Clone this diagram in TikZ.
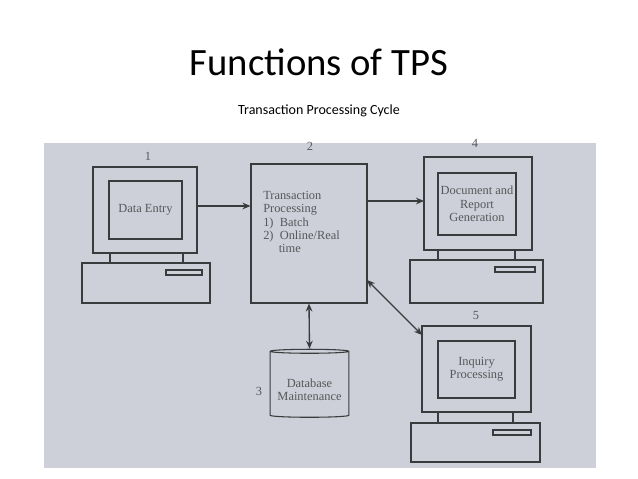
\documentclass[tikz,border=0pt]{standalone}
\usepackage{fontspec}
\setmainfont{Liberation Serif}
\newfontfamily\slidefont{Carlito}
\usetikzlibrary{arrows.meta,shapes.geometric}
\definecolor{paper}{RGB}{205,207,217}
\definecolor{inkc}{RGB}{55,60,60}
\begin{document}
\begin{tikzpicture}[x=0.75pt,y=-0.75pt,
  ln/.style={draw=inkc,line width=0.8pt},
  dtxt/.style={font=\fontsize{9.3}{10}\selectfont,text=inkc!85},
  arr/.style={draw=inkc,line width=1pt,-{Stealth[length=6pt,width=5pt]}},
  darr/.style={draw=inkc,line width=1pt,{Stealth[length=6pt,width=5pt]}-{Stealth[length=6pt,width=5pt]}}]
\useasboundingbox (0,0) rectangle (638,478);
\fill[white] (0,0) rectangle (638,478);
\node[font=\slidefont\fontsize{29}{32}\selectfont] (title) at (319,62) {Functions of TPS};
\node[font=\slidefont\fontsize{10.5}{12}\selectfont] (sub) at (319,111) {Transaction Processing Cycle};
\fill[paper] (44,143) rectangle (596,468);
% computer 1
\draw[ln] (93,167) rectangle (197,253);
\node[ln,dtxt,minimum width=54.75pt,minimum height=43.5pt] (de) at (145.5,210) {Data Entry};
\draw[ln] (110,253) -- (110,263) (183,253) -- (183,263);
\draw[ln] (82,263) rectangle (210,303);
\draw[ln] (166,270) rectangle (202,275);
\node[dtxt] (l1) at (148,156) {1};
% box 2
\node[ln,minimum width=87pt,minimum height=104.25pt] (tp) at (309,233.5) {};
\node[dtxt,align=left,anchor=north west,inner sep=0pt] (tpt) at (263,191) {Transaction\\Processing\\1)\ \ Batch\\2)\ \ Online/Real\\\hspace{1.25em}time};
\node[dtxt] (l2) at (310,146) {2};
% computer 4
\draw[ln] (424,157) rectangle (532,250);
\node[ln,dtxt,align=center,minimum width=58.5pt,minimum height=46.5pt,inner sep=1pt] (doc) at (477,204) {Document and\\Report\\Generation};
\draw[ln] (438,250) -- (438,260) (515,250) -- (515,260);
\draw[ln] (410,260) rectangle (543,303);
\draw[ln] (495,267) rectangle (535,272);
\node[dtxt] (l4) at (475,143) {4};
% computer 5
\draw[ln] (422,326) rectangle (531,412);
\node[ln,dtxt,align=center,minimum width=57.75pt,minimum height=42.75pt] (inq) at (476.5,369.5) {Inquiry\\Processing};
\draw[ln] (438,412) -- (438,423) (513,412) -- (513,423);
\draw[ln] (411,423) rectangle (540,462);
\draw[ln] (493,430) rectangle (531,435);
\node[dtxt] (l5) at (476,315) {5};
% database
\node[ln,cylinder,shape border rotate=90,aspect=0.45,minimum width=59pt,minimum height=51pt] (db) at (309.5,385) {};
\node[dtxt,align=center] (dbt) at (309.5,390) {Database\\Maintenance};
\node[dtxt] (l3) at (259,391) {3};
% arrows
\draw[arr] (197,206) -- (tp.west |- 0,206);
\draw[arr] (tp.east |- 0,201) -- (424,201);
\draw[darr] (tp.south) -- (db.top);
\coordinate (a1) at (367,280);
\coordinate (a2) at (422,335);
\draw[darr] (a1) -- (a2);
\end{tikzpicture}
\end{document}
